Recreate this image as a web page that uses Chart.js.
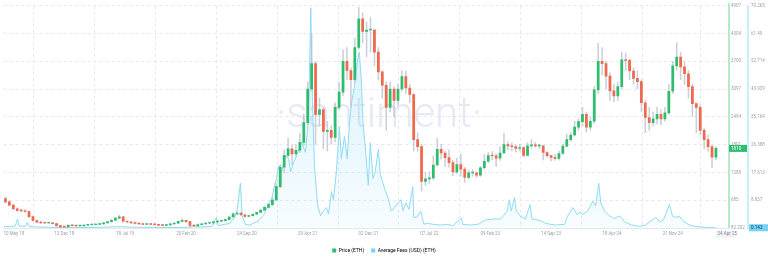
<!DOCTYPE html>
<html><head><meta charset="utf-8">
<script src="https://cdn.jsdelivr.net/npm/chart.js@4"></script>
<style>html,body{margin:0;padding:0;background:#fff}#wrap{width:768px;height:260px;position:relative}</style>
</head><body><div id="wrap"><canvas id="c" width="768" height="260"></canvas></div>
<script>
// ---------- DATA ----------
const startDate = '2018-05-10';
const candleFirstDate = '2018-05-17';
const candleStepDays = 14;
const firstOpen = 720;
const closes = [650,580,500,465,455,440,330,245,208,195,190,192,178,135,108,105,138,132,127,130,
142,152,152,160,172,195,220,250,295,325,228,212,195,182,172,160,162,160,155,145,
140,150,170,185,225,250,220,139,130,155,172,185,195,215,230,242,265,320,390,405,
370,335,350,380,420,470,530,590,690,980,1400,1660,1800,1690,1770,1940,2370,3100,3650,2550,
2650,2180,2200,2050,2700,3030,3700,3500,3300,4000,4620,4350,4380,4380,3900,3470,3180,2700,3100,2850,
3100,3370,3120,2980,2000,1850,1095,1150,1170,1450,1790,1710,1610,1500,1300,1460,1360,1180,1280,1280,
1230,1390,1530,1654,1650,1600,1710,1895,1866,1850,1810,1825,1660,1866,1890,1866,1866,1720,1654,1615,
1590,1700,1860,2000,2100,2270,2390,2550,2270,2400,3080,3700,3650,3380,3060,2950,3150,3730,3720,3490,
3330,3260,2800,2480,2370,2450,2550,2450,2580,3050,3600,3790,3580,3430,3150,2780,2700,2200,2000,1850,
1620,1810];
const highs = [760,680,600,520,500,480,460,345,260,225,215,210,205,185,140,120,160,150,140,140,
150,162,165,172,185,205,235,275,315,360,330,240,230,210,195,180,175,170,168,160,
152,158,180,195,240,285,255,225,150,170,185,200,215,230,245,250,275,330,415,440,
415,380,365,395,430,480,560,620,740,1050,1460,1780,2040,1880,1900,2140,2550,3250,4300,3700,
2900,2700,2400,2300,2800,3250,3950,4000,3550,4200,4870,4750,4550,4650,4400,4000,3500,3250,3250,3150,
3200,3500,3480,3200,3000,2150,1900,1280,1300,1650,2030,1900,1750,1780,1550,1600,1680,1400,1330,1350,
1300,1420,1680,1720,1740,1700,1850,2140,1960,1930,1880,1900,1850,1930,2000,1940,1900,1870,1740,1660,
1680,1750,1900,2120,2150,2400,2450,2700,2600,2500,3150,4090,4000,3700,3450,3200,3250,3900,3880,3750,
3560,3500,3300,2850,2700,2600,2700,2650,2700,3200,3700,4100,3900,3700,3500,3200,2800,2750,2250,2100,
1880,1850];
const lows = [620,560,470,440,430,420,300,230,190,180,175,180,165,110,95,84,100,120,118,120,
125,135,140,145,155,165,185,210,240,285,200,190,180,165,160,150,150,150,145,130,
128,135,142,165,180,220,205,90,120,125,150,165,180,190,210,222,235,260,310,375,
350,310,325,340,370,410,460,515,570,680,950,1280,1620,1450,1640,1720,1880,2320,3050,1900,
2300,1800,1750,1900,1950,2650,2950,3300,2700,3250,3950,4100,3800,3900,3600,3300,2900,2200,2600,2500,
2750,3050,3000,2800,1750,1750,880,1000,1050,1130,1420,1580,1420,1400,1220,1260,1200,1070,1150,1200,
1180,1200,1360,1500,1560,1420,1550,1700,1780,1760,1730,1760,1630,1650,1820,1830,1810,1560,1620,1540,
1550,1560,1680,1840,1960,2080,2200,2300,2170,2200,2350,3000,3400,3100,2850,2820,2850,3100,3500,3300,
3200,3100,2600,2150,2200,2300,2340,2320,2400,2550,3000,3500,3300,3200,2900,2500,2150,2100,1800,1750,
1390,1560];
const feeDates = ['2018-05-10','2018-06-07','2018-06-21','2018-06-29','2018-07-05','2018-07-27','2018-08-03','2018-08-10','2018-08-31','2018-10-16',
'2018-12-09','2019-02-18','2019-04-30','2019-06-21','2019-08-14','2019-10-25','2020-01-03','2020-02-25','2020-03-13','2020-04-17',
'2020-05-23','2020-06-07','2020-06-14','2020-07-05','2020-07-26','2020-08-02','2020-08-12','2020-08-19','2020-09-01','2020-09-07',
'2020-09-18','2020-10-02','2020-10-23','2020-11-06','2020-11-24','2020-12-05','2020-12-22','2021-01-01','2021-01-08','2021-01-15',
'2021-01-26','2021-02-03','2021-02-10','2021-02-20','2021-02-27','2021-03-10','2021-03-20','2021-04-07','2021-04-21','2021-05-02',
'2021-05-10','2021-05-16','2021-05-23','2021-06-03','2021-06-14','2021-06-24','2021-07-05','2021-07-12','2021-07-23','2021-07-30',
'2021-08-09','2021-08-20','2021-08-27','2021-09-07','2021-09-17','2021-09-24','2021-10-02','2021-10-12','2021-10-23','2021-10-30',
'2021-11-06','2021-11-13','2021-11-20','2021-12-01','2021-12-08','2021-12-15','2021-12-18','2021-12-26','2022-01-06','2022-01-13',
'2022-01-23','2022-01-30','2022-02-10','2022-02-21','2022-03-03','2022-03-17','2022-03-28','2022-04-04','2022-04-14','2022-04-25',
'2022-05-09','2022-05-12','2022-05-23','2022-06-06','2022-06-17','2022-07-01','2022-07-22','2022-08-16','2022-09-10','2022-09-28',
'2022-10-30','2022-11-03','2022-12-01','2022-12-30','2023-01-23','2023-02-22','2023-03-18','2023-04-11','2023-04-18','2023-04-25',
'2023-05-06','2023-05-13','2023-05-27','2023-06-14','2023-07-01','2023-07-08','2023-08-06','2023-08-27','2023-09-28','2023-11-02',
'2023-11-09','2023-12-01','2023-12-15','2023-12-26','2024-01-05','2024-01-23','2024-02-10','2024-02-20','2024-03-02','2024-03-09',
'2024-03-23','2024-04-10','2024-04-24','2024-05-16','2024-06-02','2024-06-27','2024-07-26','2024-08-16','2024-09-21','2024-10-05',
'2024-10-19','2024-11-09','2024-11-20','2024-12-01','2024-12-14','2024-12-28','2025-01-19','2025-02-12','2025-03-13','2025-04-07',
'2025-04-24'];
const fees = [0.5,0.5,0.7,2.9,0.7,0.6,1.9,0.6,0.4,0.3,
0.2,0.2,0.3,0.5,0.3,0.25,0.2,0.3,0.5,0.4,
0.6,3.4,0.8,1.2,1.5,2.5,3.5,5.0,14.2,4.0,
1.3,0.9,1.8,2.4,4.4,6.5,9.5,13.6,15.7,19.8,
17.8,20.8,22.9,21.9,17.8,20.8,22.9,27,24,35,
69.6,40,19.8,7.5,3.9,5.4,6.5,4.5,11.6,9,
17.8,32,22,29,21.9,32,39.4,44.4,52.6,55.7,
47,32,26,13.6,27,19,15.7,18,25,17,
14,12,9.5,5.4,6.5,8,9,5.5,8,6,
13.1,3.4,3.5,5.4,1.3,1.5,1.2,1.0,1.2,0.8,
3.2,1.2,1.0,1.3,2.6,2.9,2.9,5.4,9,5.4,
9.7,5.4,3.9,2.9,7.5,2.9,2.4,1.5,1.0,1.2,
3.4,6.5,4.4,5,4.4,5.4,8.5,7,14.2,8,
5.4,3.9,3.0,3.9,2.0,1.0,0.6,1.0,3.4,2.0,
2.6,7.5,3.8,3.4,3.8,2.3,1.0,0.5,0.3,0.2,
0.142];
const xTickDates = ['2018-05-10','2018-12-13','2019-07-18','2020-02-20','2020-09-24','2021-04-29','2021-12-02','2022-07-07','2023-02-09','2023-09-14','2024-04-18','2024-11-21'];
const xTickLabels = ['10 May 18','13 Dec 18','18 Jul 19','20 Feb 20','24 Sep 20','29 Apr 21','02 Dec 21','07 Jul 22','09 Feb 23','14 Sep 23','18 Apr 24','21 Nov 24'];
const xEndDate = '2025-06-06';
const lastDateLabel = '24 Apr 25';
const priceTicks = [82.202,685,1288,1891,2494,3097,3700,4304,4907];
const priceTickLabels = ['82.202','685','1288','1891','2494','3097','3700','4304','4907'];
const feeTicks = [0.062,8.837,17.613,26.388,35.164,43.939,52.714,61.49,70.265];
const feeTickLabels = ['0.062','8.837','17.613','26.388','35.164','43.939','52.714','61.49','70.265'];
const seriesNames = ['Price (ETH)','Average Fees (USD) (ETH)'];

// ---------- STYLE ----------
const GREEN = '#2ebd6e', RED = '#ef6a4d', WICK = 'rgba(188,190,208,0.75)';
const FEE_LINE = '#8fdbf5', FEE_LEG = '#74d3f3';
const GRID = '#e6e8ee', TICK = '#9ca1ab', FONT = 'Roboto';

const dayOf = s => (Date.parse(s) - Date.parse(startDate)) / 86400000;
const c0 = dayOf(candleFirstDate);
const opens = closes.map((c, i) => i === 0 ? firstOpen : closes[i - 1]);
const candleX = closes.map((c, i) => c0 + i * candleStepDays);
const wickData = closes.map((c, i) => ({x: candleX[i], y: [lows[i], highs[i]]}));
const bodyData = closes.map((c, i) => ({x: candleX[i], y: [opens[i], c]}));
const bodyColors = closes.map((c, i) => c >= opens[i] ? GREEN : RED);
const feeData = fees.map((v, i) => ({x: dayOf(feeDates[i]), y: v}));
const xTickVals = xTickDates.map(dayOf);
const xMax = dayOf(xEndDate);

const watermark = {
  id: 'wm',
  beforeDatasetsDraw(chart) {
    const c = chart.ctx;
    c.save();
    c.font = '300 42px Roboto';
    c.fillStyle = 'rgba(196,200,228,0.42)';
    c.textAlign = 'center';
    c.textBaseline = 'alphabetic';
    c.fillText('\u00B7santiment\u00B7', 379, 127);
    c.restore();
  }
};
const tags = {
  id: 'tags',
  afterDraw(chart) {
    const c = chart.ctx, yP = chart.scales.yPrice, yF = chart.scales.yFee, xs = chart.scales.x;
    c.save();
    c.strokeStyle = 'rgba(60,200,110,0.38)';
    c.lineWidth = 2;
    c.beginPath(); c.moveTo(yP.left + 1, yP.top - 3); c.lineTo(yP.left + 1, yP.bottom); c.stroke();
    c.font = '4.6px ' + FONT;
    c.textBaseline = 'middle';
    c.textAlign = 'left';
    const lc = closes[closes.length - 1];
    let y = yP.getPixelForValue(lc);
    c.fillStyle = GREEN;
    c.fillRect(yP.left + 1, y - 3.5, 18, 7);
    c.fillStyle = '#ffffff';
    c.fillText(String(lc), yP.left + 3, y);
    const lf = fees[fees.length - 1];
    y = yF.getPixelForValue(lf);
    c.fillStyle = FEE_LEG;
    c.fillRect(yF.left + 1, y - 3.5, 19, 7);
    c.fillStyle = '#0e3a4c';
    c.fillText(lf.toFixed(3), yF.left + 3, y);
    const lx = xs.getPixelForValue(dayOf(feeDates[feeDates.length - 1]));
    c.fillStyle = '#f1f2f5';
    c.fillRect(lx, xs.top + 2.5, 20, 7);
    c.fillStyle = '#8a8f99';
    c.fillText(lastDateLabel, lx + 1.5, xs.top + 6);
    c.restore();
  }
};

new Chart(document.getElementById('c'), {
  type: 'bar',
  data: {
    datasets: [
      {label: seriesNames[0], data: bodyData, backgroundColor: bodyColors, barThickness: 2.1, minBarLength: 0.8,
       grouped: false, yAxisID: 'yPrice', order: 1},
      {label: 'wick', data: wickData, backgroundColor: WICK, barThickness: 0.9, grouped: false, yAxisID: 'yPrice', order: 2},
      {type: 'line', label: seriesNames[1], data: feeData, yAxisID: 'yFee', order: 3,
       borderColor: FEE_LINE, borderWidth: 1, pointRadius: 0, tension: 0, fill: 'start',
       backgroundColor: (ctx) => {
         const ch = ctx.chart, a = ch.chartArea;
         if (!a) return 'rgba(120,210,245,0.15)';
         const g = ch.ctx.createLinearGradient(0, a.top, 0, a.bottom);
         g.addColorStop(0, 'rgba(120,210,245,0.32)');
         g.addColorStop(1, 'rgba(120,210,245,0.06)');
         return g;
       }}
    ]
  },
  options: {
    responsive: false, animation: false, devicePixelRatio: 1,
    layout: {padding: {left: 0, right: 0, top: 0, bottom: -3}},
    plugins: {
      tooltip: {enabled: false},
      legend: {
        position: 'bottom',
        labels: {
          boxWidth: 4, boxHeight: 4, padding: 7, color: '#4b4f57',
          font: {family: FONT, size: 5},
          generateLabels(chart) {
            return [
              {text: chart.data.datasets[0].label, fillStyle: GREEN, strokeStyle: GREEN, lineWidth: 0, datasetIndex: 0, hidden: false},
              {text: chart.data.datasets[2].label, fillStyle: FEE_LEG, strokeStyle: FEE_LEG, lineWidth: 0, datasetIndex: 2, hidden: false}
            ];
          }
        }
      }
    },
    scales: {
      x: {
        type: 'linear', min: 0, max: xMax, offset: false,
        afterBuildTicks(s) { s.ticks = xTickVals.map(v => ({value: v})).concat([{value: xMax}]); },
        afterFit(s) { s.height = 13; },
        ticks: {
          autoSkip: false, maxRotation: 0, align: 'inner', padding: 3.5, color: TICK,
          font: {family: FONT, size: 4.5},
          callback(v, i) { return i < xTickLabels.length ? xTickLabels[i] : ''; }
        },
        grid: {color: GRID, drawTicks: false},
        border: {color: '#e6e8ec', dash: [3, 3]}
      },
      yPrice: {
        type: 'linear', position: 'right', min: priceTicks[0], max: priceTicks[priceTicks.length - 1],
        afterBuildTicks(s) { s.ticks = priceTicks.map(v => ({value: v})); },
        afterFit(s) { s.width = 20; },
        ticks: {color: TICK, padding: 3, font: {family: FONT, size: 4.5},
                callback(v, i) { return priceTickLabels[i]; }},
        grid: {color: GRID, drawTicks: false},
        border: {display: false, dash: [3, 3]}
      },
      yFee: {
        type: 'linear', position: 'right', min: feeTicks[0], max: feeTicks[feeTicks.length - 1],
        afterBuildTicks(s) { s.ticks = feeTicks.map(v => ({value: v})); },
        afterFit(s) { s.width = 20; },
        ticks: {color: TICK, padding: 3, font: {family: FONT, size: 4.5},
                callback(v, i) { return feeTickLabels[i]; }},
        grid: {display: false, drawTicks: false},
        border: {color: 'rgba(120,215,245,0.4)', width: 2}
      }
    }
  },
  plugins: [watermark, tags]
});
</script>
</body></html>
